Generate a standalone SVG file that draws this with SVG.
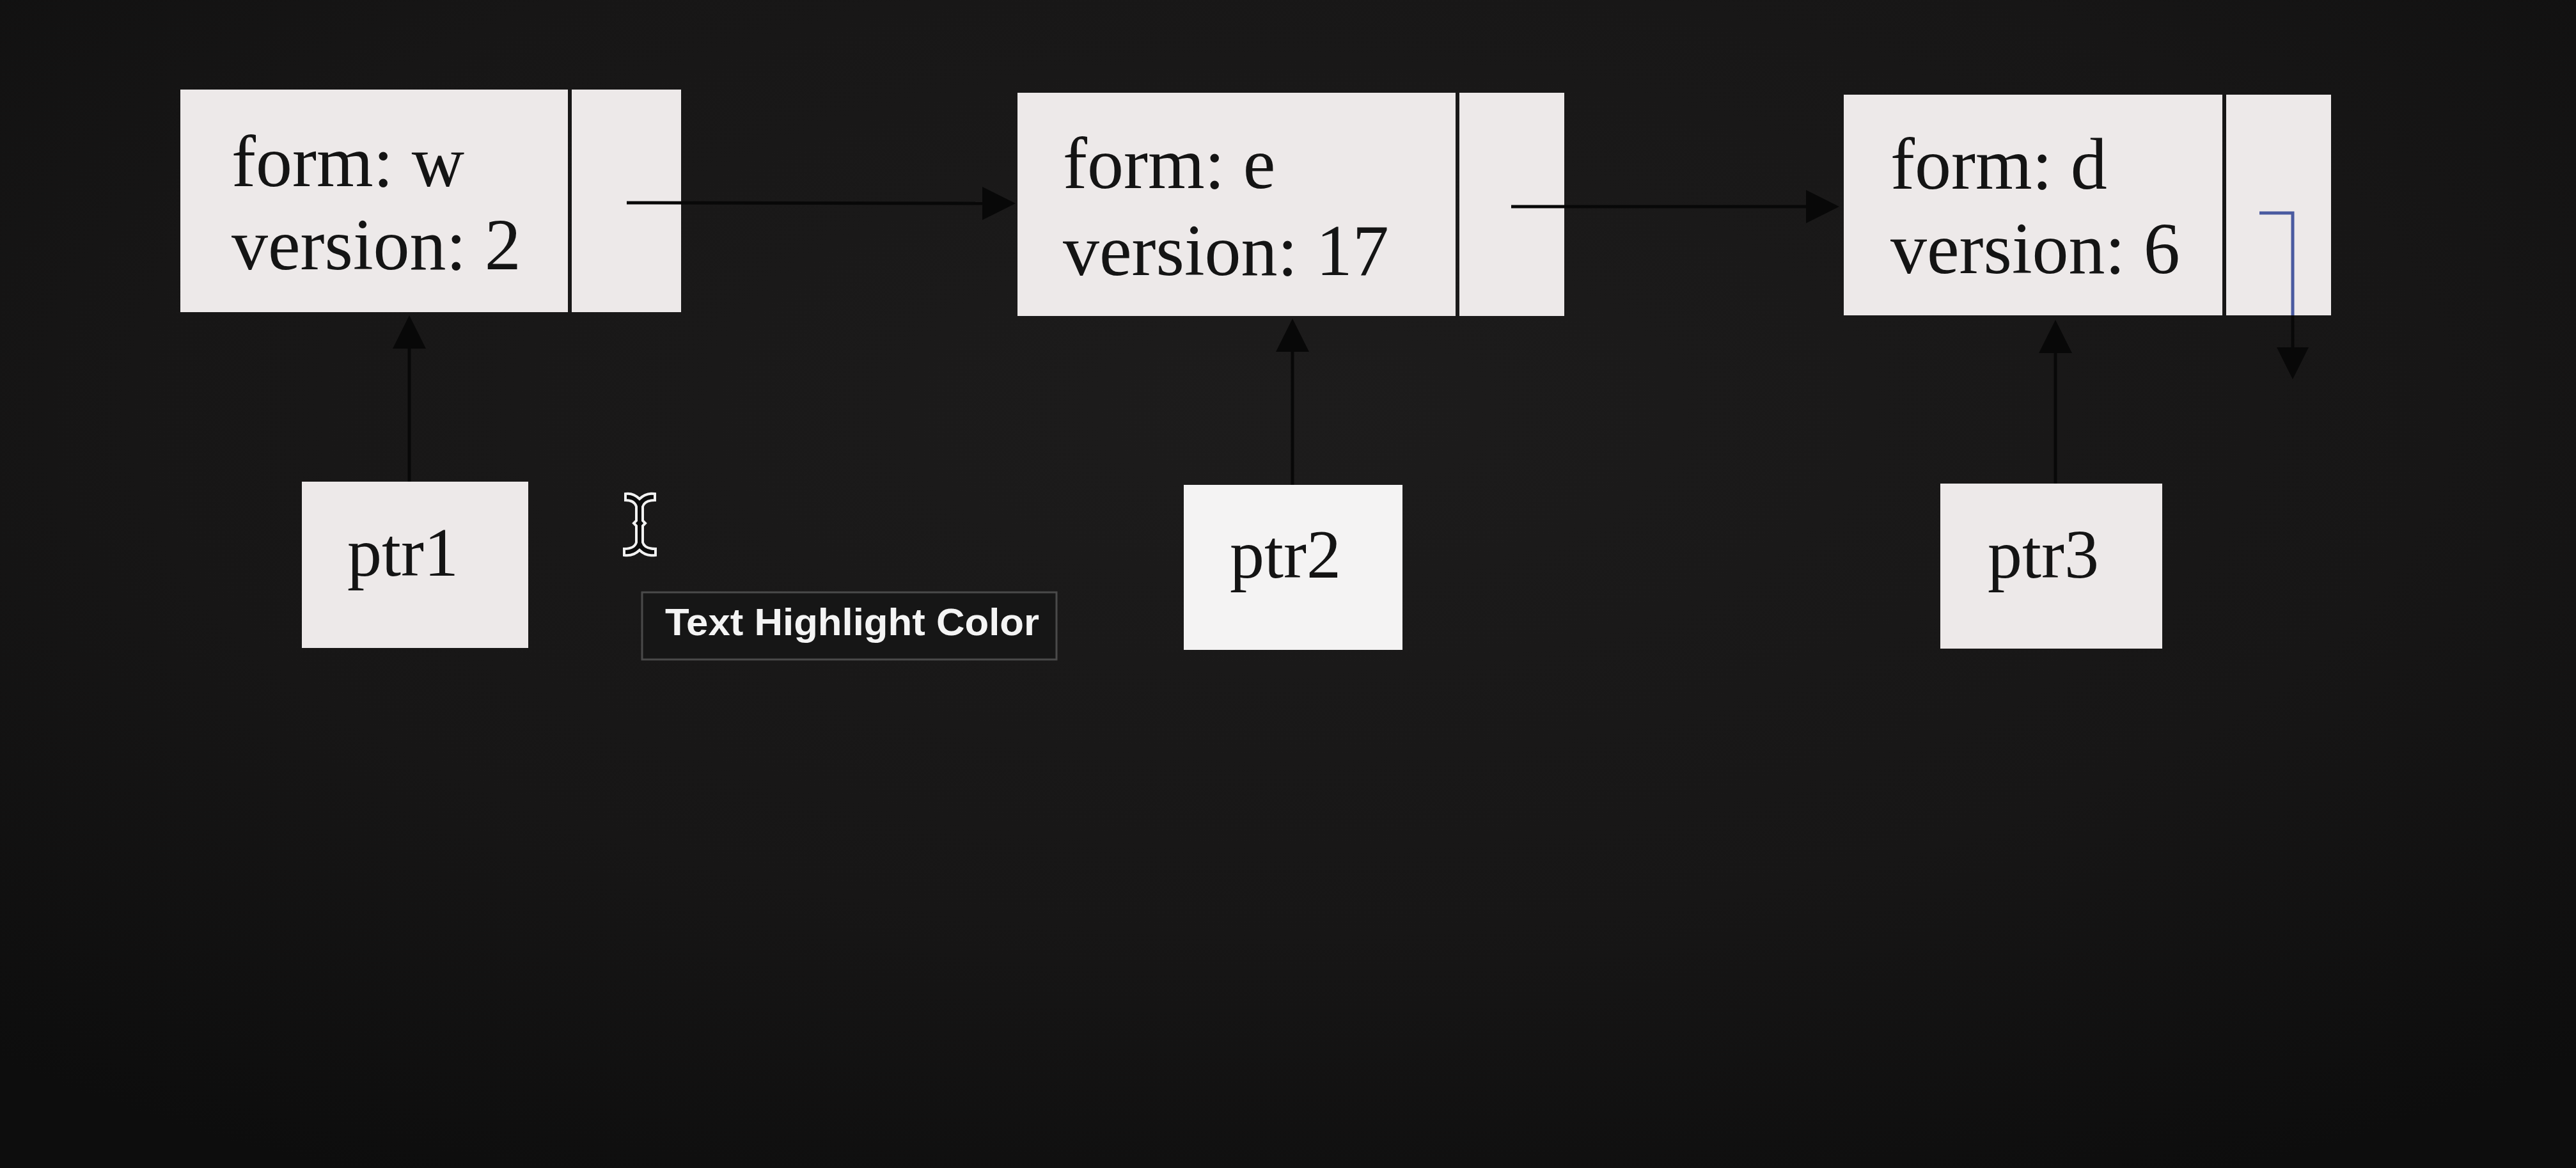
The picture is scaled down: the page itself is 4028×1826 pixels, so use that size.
<svg xmlns="http://www.w3.org/2000/svg" width="4028" height="1826" viewBox="0 0 4028 1826">
<defs>
<radialGradient id="bg" cx="0.5" cy="0.35" r="0.75">
<stop offset="0" stop-color="#1d1c1c"/>
<stop offset="0.6" stop-color="#171616"/>
<stop offset="1" stop-color="#0d0d0d"/>
</radialGradient>
<style>
.cell{fill:#ede9e9}
.t{font-family:"Liberation Serif","Times New Roman",serif;font-size:114px;fill:#141414}
.p{font-family:"Liberation Serif","Times New Roman",serif;font-size:108px;fill:#141414;text-anchor:middle}
.c{stroke:#080808;stroke-width:5;fill:none}
.head{fill:#080808}
</style>
</defs>
<rect x="0" y="0" width="4028" height="1826" fill="url(#bg)"/>

<g id="node1">
<rect class="cell" x="282" y="140" width="606" height="348"/>
<rect class="cell" x="894" y="140" width="171" height="348"/>
<text class="t" x="362" y="291">form: w</text>
<text class="t" x="362" y="421">version: 2</text>
</g>
<g id="node2">
<rect class="cell" x="1591" y="145" width="685" height="349"/>
<rect class="cell" x="2282" y="145" width="164" height="349"/>
<text class="t" x="1662" y="294">form: e</text>
<text class="t" x="1662" y="430">version: 17</text>
</g>
<g id="node3">
<rect class="cell" x="2883" y="148" width="592" height="345"/>
<rect class="cell" x="3481" y="148" width="164" height="345"/>
<text class="t" x="2956" y="295">form: d</text>
<text class="t" x="2956" y="427">version: 6</text>
</g>
<g id="ptr1">
<rect class="cell" x="472" y="753" width="354" height="260"/>
<text class="p" x="630" y="900">ptr1</text>
</g>
<g id="ptr2">
<rect x="1851" y="758" width="342" height="258" fill="#f4f3f3"/>
<text class="p" x="2010" y="903">ptr2</text>
</g>
<g id="ptr3">
<rect class="cell" x="3034" y="756" width="347" height="258"/>
<text class="p" x="3195" y="903">ptr3</text>
</g>

<g id="connectors">
<line class="c" x1="980" y1="317" x2="1540" y2="318"/>
<path class="head" d="M1588,318 L1536,292 L1536,344 Z"/>
<line class="c" x1="2363" y1="323" x2="2828" y2="323"/>
<path class="head" d="M2876,323 L2824,297 L2824,349 Z"/>
<line class="c" x1="640" y1="753" x2="640" y2="540"/>
<path class="head" d="M640,493 L614,545 L666,545 Z"/>
<line class="c" x1="2021" y1="758" x2="2021" y2="545"/>
<path class="head" d="M2021,498 L1995,550 L2047,550 Z"/>
<line class="c" x1="3214" y1="756" x2="3214" y2="545"/>
<path class="head" d="M3214,500 L3188,552 L3240,552 Z"/>
<path d="M3533,333 L3585,333 L3585,493" stroke="#4a5aa0" stroke-width="5" fill="none"/>
<line class="c" x1="3585" y1="493" x2="3585" y2="545"/>
<path class="head" d="M3585,593 L3560,543 L3610,543 Z"/>
</g>

<g id="cursor">
<path d="M978,772 Q990,770 1000,780 Q1010,770 1024,772 L1024,782 Q1008,782 1005,792 L1005,814 L1009,818 L1005,822 L1005,848 Q1008,858 1025,858 L1025,868 Q1010,870 1000,860 Q990,870 976,868 L976,858 Q992,858 995,848 L995,822 L991,818 L995,814 L995,792 Q992,782 978,782 Z" fill="#0c0c0c" stroke="#f2f2f2" stroke-width="4"/>
</g>
<g id="tooltip">
<rect x="1004" y="926" width="648" height="105" fill="#161616" stroke="#4a4a4a" stroke-width="3"/>
<text x="1040" y="993" font-family="Liberation Sans, Arial, sans-serif" font-weight="bold" font-size="60" fill="#f4f4f4" textLength="585" lengthAdjust="spacingAndGlyphs">Text Highlight Color</text>
</g>
</svg>
